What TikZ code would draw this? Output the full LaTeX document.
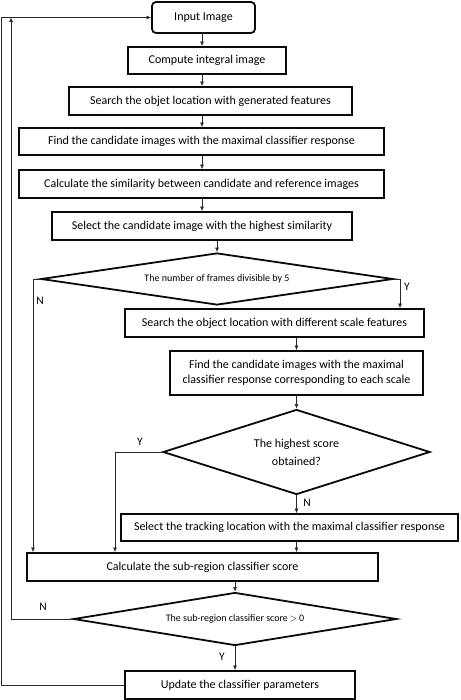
\documentclass[tikz,border=0pt]{standalone}
\usepackage{fontspec}
\setmainfont{Carlito}
\usepackage{tikz}
\usetikzlibrary{calc, shapes.geometric, positioning, arrows.meta}
\definecolor{InkBlack}{RGB}{10, 10, 10}
\definecolor{WireGrey}{RGB}{40, 40, 40}

\tikzset{
    stepbox/.style={draw=InkBlack, line width=1.8pt, rectangle, inner sep=2pt,
        align=center, font=\fontsize{12}{15}\selectfont},
    startbox/.style={stepbox, rounded corners=4pt},
    testbox/.style={draw=InkBlack, line width=1.8pt, diamond, inner sep=1pt,
        align=center},
    wire/.style={WireGrey, line width=0.6pt},
    flow/.style={wire, -{Latex[length=4.5pt, width=4pt]}},
    tag/.style={inner sep=0pt, font=\fontsize{11.5}{13}\selectfont}
}

\begin{document}
\begin{tikzpicture}[x=1pt, y=-1pt]
    \useasboundingbox (0,0) rectangle (460,700);
    % main column
    \node[startbox, minimum width=103pt, minimum height=31pt] (input) at (203.5,17.5) {Input Image};
    \node[stepbox, minimum width=158pt, minimum height=27pt] (integral) at (207,60.5) {Compute integral image};
    \node[stepbox, minimum width=283pt, minimum height=28pt] (search) at (210.5,101) {Search the objet location with generated features};
    \node[stepbox, minimum width=365pt, minimum height=27pt] (findcand) at (201.5,141.5) {Find the candidate images with the maximal classifier response};
    \node[stepbox, minimum width=365pt, minimum height=28pt] (similar) at (201.5,184) {Calculate the similarity between candidate and reference images};
    \node[stepbox, minimum width=300pt, minimum height=28pt] (selcand) at (202,226) {Select the candidate image with the highest similarity};
    \node[testbox, minimum width=352pt, minimum height=52pt, aspect=7,
        font=\fontsize{10}{12}\selectfont] (frames) at (217,279) {The number of frames divisible by 5};
    % scale branch
    \node[stepbox, minimum width=299pt, minimum height=28pt] (scale) at (274.5,323) {Search the object location with different scale features};
    \node[stepbox, minimum width=253pt, minimum height=44pt] (findscale) at (296.5,373) {Find the candidate images with the maximal\\classifier response corresponding to each scale};
    \node[testbox, minimum width=267pt, minimum height=85pt, aspect=3.1,
        font=\fontsize{12}{18}\selectfont] (highest) at (296.5,452) {The highest score\\obtained?};
    \node[stepbox, minimum width=337pt, minimum height=27pt] (track) at (289.5,527.5) {Select the tracking location with the maximal classifier response};
    % bottom part
    \node[stepbox, minimum width=351pt, minimum height=28pt] (subscore) at (202.5,567) {Calculate the sub-region classifier score};
    \node[testbox, minimum width=323pt, minimum height=53pt, aspect=6,
        font=\fontsize{10}{12}\selectfont] (positive) at (235,619) {The sub-region classifier score\,$>$\,0};
    \node[stepbox, minimum width=230pt, minimum height=28pt] (update) at (240,685) {Update the classifier parameters};

    % helper points for the bends
    \coordinate (colA) at (202,0);
    \coordinate (yesA) at (400,279);
    \coordinate (noA) at (33,279);
    \coordinate (yesB) at (115,452);
    \coordinate (loopIn) at (11,619);
    \coordinate (loopOut) at (1,685);

    % straight flow
    \draw[flow] (input.south -| colA) -- (integral.north -| colA);
    \draw[flow] (integral.south -| colA) -- (search.north -| colA);
    \draw[flow] (search.south -| colA) -- (findcand.north -| colA);
    \draw[flow] (findcand.south -| colA) -- (similar.north -| colA);
    \draw[flow] (similar.south -| colA) -- (selcand.north -| colA);
    \draw[flow] (selcand.south -| frames) -- (frames.north);
    \draw[flow] (scale.south -| findscale) -- (findscale.north);
    \draw[flow] (findscale.south) -- (highest.north);
    \draw[flow] (highest.south) -- (track.north -| highest.south);
    \draw[flow] (track.south -| highest.south) -- (subscore.north -| highest.south);
    \draw[flow] (subscore.south -| positive) -- (positive.north);
    \draw[flow] (positive.south) -- (update.north -| positive.south);

    % branches
    \draw[flow] (frames.east) -- (yesA) -- (yesA |- scale.north);
    \draw[flow] (frames.west) -- (noA) -- (noA |- subscore.north);
    \draw[flow] (highest.west) -- (yesB) -- (yesB |- subscore.north);
    \draw[flow] (positive.west) -- (loopIn) -- (loopIn |- input.west);
    \draw[flow] (update.west) -- (loopOut) -- (loopOut |- input.west) -- (input.west);

    % branch labels
    \node[tag] (yesAtag) at (407,287) {Y};
    \node[tag] (noAtag) at (40,301) {N};
    \node[tag] (yesBtag) at (140,442) {Y};
    \node[tag] (noBtag) at (307,503) {N};
    \node[tag] (noCtag) at (43,607) {N};
    \node[tag] (yesCtag) at (222,657) {Y};
\end{tikzpicture}
\end{document}
